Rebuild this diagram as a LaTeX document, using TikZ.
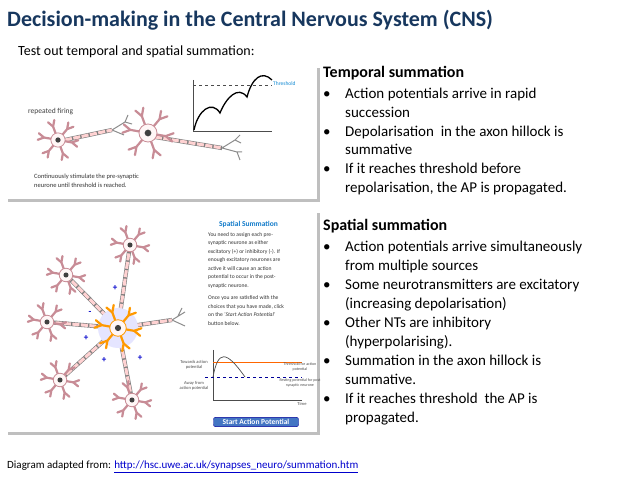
\documentclass[tikz,border=0pt]{standalone}
\usepackage{fontspec}
\setmainfont{Carlito}
\definecolor{tcol}{RGB}{23,55,94}
\definecolor{dcol}{RGB}{200,140,150}
\begin{document}
\begin{tikzpicture}[x=1pt,y=-1pt,
 dend/.style={line width=2.2pt,draw=#1,line cap=round},dend/.default={dcol},
 ln/.style={anchor=base west,inner sep=0pt,font=\fontsize{15}{19}\selectfont},
 small/.style={font=\fontsize{5.5}{7}\selectfont,inner sep=0pt,anchor=west,text=black!70}]
\useasboundingbox (0,0) rectangle (638,478);
\newcommand\neur[4]{\begin{scope}[shift={(#1,#2)},scale=#3]
\foreach \a in {0,60,...,300}{\draw[dend=#4] (0,0) -- (\a+10:15) -- +(\a+40:7);\draw[dend=#4] (\a+10:15) -- +(\a-20:7);}
\fill[white!85!pink,draw=#4,line width=.8pt] (0,0) circle (7.5);
\fill[black!75] (0,0) circle (2.8);\end{scope}}
\newcommand\axon[2]{\draw[line width=4.2pt,black!50] #1 -- #2;\draw[line width=3pt,pink!70!white,dash pattern=on 7pt off 1.5pt] #1 -- #2;}
% title
\node[anchor=west,inner sep=0pt,font=\fontsize{22}{26}\bfseries\selectfont,text=tcol] (t) at (7,20) {Decision-making in the Central Nervous System (CNS)};
\node[anchor=west,inner sep=0pt,font=\fontsize{14}{17}\selectfont] (s) at (18,52) {Test out temporal and spatial summation:};
% panel 1
\fill[black!25] (8,68) rectangle (320,202);
\fill[white] (5,65) rectangle (317,199);
\node[anchor=west,inner sep=0pt,font=\fontsize{7.5}{9}\selectfont,text=black!75] (rf) at (28,112) {repeated firing};
\axon{(65,140)}{(112,130)}
\draw[line width=1pt,black!45] (112,130) -- (125,122) -- (128,115) (125,122)--(132,124) (112,130)--(124,135);
\neur{58}{140}{0.95}{dcol}
\axon{(155,137)}{(222,148)}
\draw[line width=1pt,black!45] (222,148) -- (235,140) -- (240,135) (235,140)--(241,143) (222,148)--(237,152)--(240,160) (237,152)--(242,152);
\neur{148}{133}{1.2}{dcol}
\draw[black!70,line width=.6pt] (193,80) -- (193,131) -- (272,131);
\draw[dashed,black!70] (193,85) -- (272,85);
\node[small,text=cyan!70!blue] (th) at (273,84) {Threshold};
\draw[line width=1.3pt] (194,130) .. controls (198,110) and (212,100) .. (220,113) .. controls (226,98) and (238,85) .. (247,97) .. controls (252,78) and (262,70) .. (272,80);
\node[anchor=north west,inner sep=0pt,align=left,font=\fontsize{6.5}{9}\selectfont,text=black!80] (cap) at (34,174) {Continuously stimulate the pre-synaptic\\neurone until threshold is reached.};
% panel 2
\fill[black!25] (8,213) rectangle (320,435);
\fill[white] (5,210) rectangle (317,432);
\foreach \p in {(130,245),(66,275),(47,322),(60,380),(132,400)}{\axon{\p}{(118,328)}}
\axon{(118,328)}{(172,320)}
\draw[line width=1pt,black!45] (172,320) -- (185,312) (172,320) -- (185,326) (178,316)--(182,308);
\neur{130}{245}{0.9}{dcol}
\neur{66}{275}{0.9}{dcol}
\neur{47}{322}{0.9}{dcol}
\neur{60}{380}{0.9}{dcol}
\neur{132}{400}{0.9}{dcol}
\fill[blue!10] (118,328) circle (20);
\neur{118}{328}{1.1}{orange!80!yellow}
\foreach \q in {(115,288),(86,338),(104,360),(140,358)}{\node[text=blue!80!black,font=\bfseries\fontsize{9}{9}\selectfont,inner sep=0pt] at \q {+};}
\node[text=blue!80!black,font=\bfseries\fontsize{9}{9}\selectfont,inner sep=0pt] (mn) at (90,313) {-};
\node[anchor=west,inner sep=0pt,font=\bfseries\fontsize{7.5}{9}\selectfont,text=cyan!60!blue] (ss) at (219,224) {Spatial Summation};
\node[anchor=north west,inner sep=0pt,align=left,font=\fontsize{5.6}{8.5}\selectfont,text=black!80] (para) at (208,232) {You need to assign each pre-\\synaptic neurone as either\\excitatory (+) or inhibitory (-). If\\enough excitatory neurones are\\active it will cause an action\\potential to occur in the post-\\synaptic neurone.\\[4pt]Once you are satisfied with the\\choices that you have made, click\\on the \emph{`Start Action Potential'}\\button below.};
\draw[black!70,line width=.5pt] (213,350) -- (213,400) -- (302,400);
\draw[orange!80!red,line width=.7pt] (213,362) -- (302,362);
\draw[dashed,blue!60!black,line width=.6pt] (205,377) -- (302,377);
\draw[black!70,line width=.7pt] (213,377) .. controls (218,350) and (226,350) .. (245,377);
\node[small,font=\fontsize{4.5}{5.5}\selectfont,align=center,anchor=center] (ta) at (194,365) {Towards action\\potential};
\node[small,font=\fontsize{4.5}{5.5}\selectfont,align=center,anchor=center] (aw) at (194,386) {Away from\\action potential};
\node[small,font=\fontsize{4}{5}\selectfont,align=center,anchor=center] (tf) at (300,367) {Threshold for action\\potential};
\node[small,font=\fontsize{4}{5}\selectfont,align=center,anchor=center] (rp) at (300,383) {Resting potential for post\\synaptic neurone};
\node[small,font=\fontsize{4.5}{5}\selectfont,anchor=center] (tm) at (302,404) {Time};
\node[fill=cyan!40!blue!80,draw=blue!60!black,rounded corners=2pt,text=white,font=\bfseries\fontsize{7.5}{9}\selectfont,inner sep=2pt,minimum width=85pt] (btn) at (256,422) {Start Action Potential};
% right text
\node[anchor=west,inner sep=0pt,font=\fontsize{16}{19}\bfseries\selectfont] (h1) at (323,73) {Temporal summation};
\foreach \y/\b/\t in {99/1/Action potentials arrive in rapid,118/0/succession,137/1/Depolarisation\ \ in the axon hillock is,155/0/summative,174/1/If it reaches threshold before,193/0/{repolarisation, the AP is propagated.}}{
 \ifnum\b=1 \node[ln] at (323,\y) {•};\fi
 \node[ln] at (345,\y) {\t};}
\node[anchor=west,inner sep=0pt,font=\fontsize{16}{19}\bfseries\selectfont] (h2) at (323,226) {Spatial summation};
\foreach \y/\b/\t in {252/1/Action potentials arrive simultaneously,271/0/from multiple sources,290/1/Some neurotransmitters are excitatory,309/0/(increasing depolarisation),328/1/Other NTs are inhibitory,347/0/(hyperpolarising).,366/1/Summation in the axon hillock is,385/0/summative.,404/1/If it reaches threshold\ \ the AP is,423/0/propagated.}{
 \ifnum\b=1 \node[ln] at (323,\y) {•};\fi
 \node[ln] at (345,\y) {\t};}
\node[anchor=west,inner sep=0pt,font=\fontsize{11}{13}\selectfont] (ft) at (7,467) {Diagram adapted from: \textcolor{blue!80!black}{\underline{http://hsc.uwe.ac.uk/synapses\_neuro/summation.htm}}};
\end{tikzpicture}
\end{document}
